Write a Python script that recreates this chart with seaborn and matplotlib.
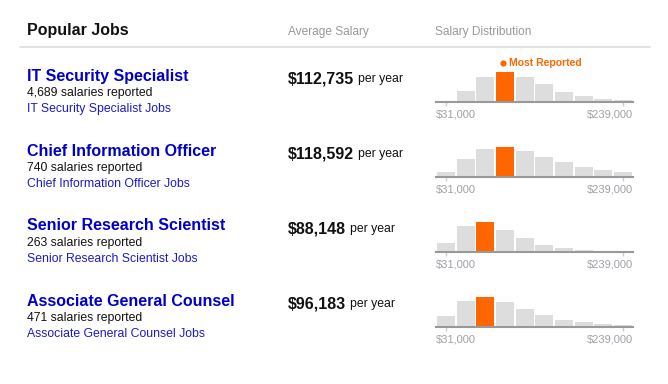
import matplotlib
matplotlib.use("Agg")
import matplotlib.pyplot as plt
import seaborn as sns
import pandas as pd

sns.set_theme(style="white")
plt.rcParams['font.family'] = ['Liberation Sans', 'DejaVu Sans']

# ---- data ----
jobs = ["IT Security Specialist", "Chief Information Officer",
        "Senior Research Scientist", "Associate General Counsel"]
salaries_reported = ["4,689", "740", "263", "471"]
avg_salary = ["$112,735", "$118,592", "$88,148", "$96,183"]
bins = [str(i) for i in range(10)]
dist_it = [1.3, 11.3, 25.3, 30.3, 25.3, 17.7, 10.3, 6.3, 3.3, 2.3]
dist_cio = [5.3, 18.3, 28.3, 30.3, 26.3, 20.3, 15.3, 10.3, 7.3, 5.3]
dist_srs = [9.3, 26.3, 30.3, 22.3, 14.3, 7.3, 4.3, 2.3, 1.3, 0.3]
dist_agc = [11.3, 26.3, 30.3, 25.3, 18.3, 12.3, 7.3, 5.3, 3.3, 2.3]
most_reported = [3, 3, 2, 2]
range_labels = ["$31,000", "$239,000"]
distributions = [dist_it, dist_cio, dist_srs, dist_agc]

W, H = 668, 384
fig = plt.figure(figsize=(W / 100, H / 100), dpi=100)
fig.patch.set_facecolor("white")

def fx(x):
    return x / W

def fy(y):
    return 1 - y / H

BLUE = "#0000c8"
LINK = "#1a1acc"
GRAY = "#999999"
ORANGE = "#ff6600"
BAR = "#dddddd"

# header
fig.text(fx(27), fy(31), "Popular Jobs", fontsize=11.5, fontweight="bold",
         color="#111111", va="center", ha="left")
fig.text(fx(288), fy(32), "Average Salary", fontsize=8.6, color=GRAY,
         va="center", ha="left")
fig.text(fx(435), fy(32), "Salary Distribution", fontsize=8.6, color=GRAY,
         va="center", ha="left")
fig.add_artist(plt.Line2D([fx(20), fx(650)], [fy(47), fy(47)],
                          color="#dddddd", lw=1.2, transform=fig.transFigure))

fig.canvas.draw()
renderer = fig.canvas.get_renderer()

for i, job in enumerate(jobs):
    off = 75 * i
    fig.text(fx(27), fy(76 + off), job, fontsize=11.5, fontweight="bold",
             color=BLUE, va="center", ha="left")
    fig.text(fx(27), fy(93 + off), f"{salaries_reported[i]} salaries reported",
             fontsize=8.8, color="#111111", va="center", ha="left")
    fig.text(fx(27), fy(109 + off), f"{job} Jobs", fontsize=8.8, color=LINK,
             va="center", ha="left")
    t = fig.text(fx(288), fy(79 + off), avg_salary[i], fontsize=11.5,
                 fontweight="bold", color="#111111", va="center", ha="left")
    bb = t.get_window_extent(renderer)
    fig.text(fx(288 + bb.width + 4), fy(79 + off), "per year", fontsize=8.8,
             color="#111111", va="center", ha="left")

    # histogram
    base = 102 + off
    top = base - 34
    ax = fig.add_axes([fx(436), fy(base), fx(633) - fx(436), (base - top) / H])
    df = pd.DataFrame({"bin": bins, "count": distributions[i]})
    colors = [ORANGE if k == most_reported[i] else BAR for k in range(10)]
    sns.barplot(data=df, x="bin", y="count", hue="bin", palette=colors,
                legend=False, width=0.91, saturation=1, linewidth=0,
                edgecolor="none", ax=ax)
    ax.set_xlim(-0.5, 9.5)
    ax.set_ylim(0, 34)
    ax.set_facecolor("none")
    for s in ["top", "right", "left"]:
        ax.spines[s].set_visible(False)
    ax.spines["bottom"].set_color("#999999")
    ax.spines["bottom"].set_linewidth(1.5)
    ax.spines["bottom"].set_zorder(5)
    ax.set_yticks([])
    ax.set_xticks([0, 9], labels=["", ""])
    ax.tick_params(axis="x", length=3, width=1, color="#cccccc", bottom=True,
                   direction="out", pad=0)
    ax.set_xlabel("")
    ax.set_ylabel("")
    ax.text(0, -12.5 / 34, range_labels[0], transform=ax.transAxes, fontsize=8,
            color="#a0a0a8", ha="left", va="center")
    ax.text(1, -12.5 / 34, range_labels[1], transform=ax.transAxes, fontsize=8,
            color="#a0a0a8", ha="right", va="center")
    if i == 0:
        mr = most_reported[i]
        ax.plot([mr - 0.1], [39], "o", color=ORANGE, markersize=4.5,
                markeredgewidth=0, clip_on=False)
        ax.text(mr + 0.22, 39, "Most Reported", color=ORANGE, fontsize=7.5,
                fontweight="bold", ha="left", va="center", clip_on=False)

fig.savefig("out.png", dpi=100, facecolor="white")
